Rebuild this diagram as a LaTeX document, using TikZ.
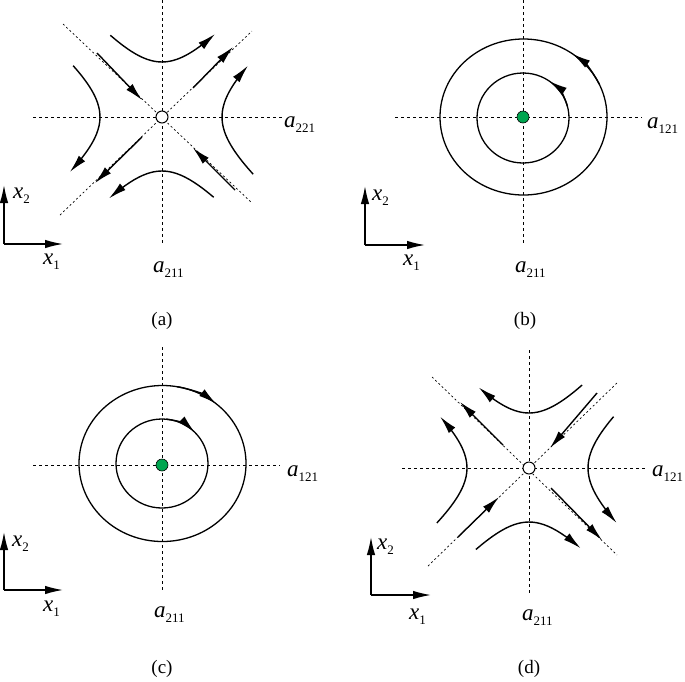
\documentclass[tikz,border=0pt]{standalone}
\usepackage{fontspec}
\setmainfont{Liberation Serif}
\usetikzlibrary{arrows.meta}
\definecolor{dotgreen}{HTML}{00A650}
\newcommand\lbl[2]{{\fontsize{23}{25}\selectfont\itshape #1}{\fontsize{13}{15}\selectfont\raisebox{-5pt}{#2}}}
\newcommand\capt[1]{{\fontsize{19}{21}\selectfont #1}}
\tikzset{
  mytip/.tip={Latex[length=18pt,width=8.5pt]},
  flow/.style={line width=1.4pt,-mytip},
  orbit/.style={line width=1.3pt},
  axisline/.style={line width=0.7pt,dash pattern=on 3pt off 3pt},
  diagline/.style={line width=0.7pt,dash pattern=on 2pt off 2.5pt},
  framearrow/.style={line width=1.4pt,-mytip},
  txtnode/.style={inner sep=0pt,anchor=base west},
  capnode/.style={inner sep=0pt,anchor=base},
  opendot/.style={circle,draw,line width=1pt,fill=white,minimum size=12pt,inner sep=0pt},
  greendot/.style={circle,draw,line width=0.6pt,fill=dotgreen,minimum size=12pt,inner sep=0pt}
}
\begin{document}
\begin{tikzpicture}[x=1pt,y=-1pt]
\useasboundingbox (0,0) rectangle (685,681);
%================ (a)
\coordinate (aC) at (162,117);
\draw[axisline] (162,0) -- (162,245);
\draw[axisline] (33,117) -- (282,117);
\draw[diagline] (63,24) -- (252,203);
\draw[diagline] (60,215) -- (252,31);
\draw[flow] (97,53) -- (142,100);
\draw[flow] (193,88) -- (233,47);
\draw[flow] (142,137) -- (95,183);
\draw[flow] (235,190) -- (193,148);
\begin{scope}[shift={(aC)}]
\draw[flow] plot[smooth,domain=-0.95:0.97,samples=25,variable=\t] ({47*sinh(\t)},{-55*cosh(\t)});
\draw[flow] plot[smooth,domain=-0.95:0.97,samples=25,variable=\t] ({-47*sinh(\t)},{54*cosh(\t)});
\draw[flow] plot[smooth,domain=-0.9:0.95,samples=25,variable=\t] ({-62*cosh(\t)},{50*sinh(\t)});
\draw[flow] plot[smooth,domain=-0.98:0.9,samples=25,variable=\t] ({60*cosh(\t)},{-50*sinh(\t)});
\end{scope}
\node[opendot] (aO) at (aC) {};
\node[txtnode] (aR) at (284,127) {\lbl{a}{221}};
\node[txtnode] (aB) at (153,272) {\lbl{a}{211}};
\coordinate (aK) at (4,244);
\coordinate (aKu) at (4,185);
\coordinate (aKr) at (63,244);
\draw[framearrow] (aK) -- (aKu);
\draw[framearrow] (aK) -- (aKr);
\node[txtnode] (aX2) at (13,198) {\lbl{x}{2}};
\node[txtnode] (aX1) at (43,264) {\lbl{x}{1}};
\node[capnode] (aCap) at (162,325) {\capt{(a)}};
%================ (b)
\coordinate (bC) at (523,117);
\draw[axisline] (523,0) -- (523,245);
\draw[axisline] (395,117) -- (642,117);
\draw[orbit] (523.5,117) ellipse [x radius=83.5,y radius=78];
\draw[orbit] (523,118) ellipse [x radius=46,y radius=45];
\draw[flow] (523.5,117) ++(-25:83.5 and 78) arc[start angle=-25,end angle=-54,x radius=83.5,y radius=78];
\draw[flow] (523,118) ++(-15:46 and 45) arc[start angle=-15,end angle=-55,x radius=46,y radius=45];
\node[greendot] (bO) at (bC) {};
\node[txtnode] (bR) at (647,128) {\lbl{a}{121}};
\node[txtnode] (bB) at (515,272) {\lbl{a}{211}};
\coordinate (bK) at (365,245);
\coordinate (bKu) at (365,186);
\coordinate (bKr) at (425,245);
\draw[framearrow] (bK) -- (bKu);
\draw[framearrow] (bK) -- (bKr);
\node[txtnode] (bX2) at (372,200) {\lbl{x}{2}};
\node[txtnode] (bX1) at (403,265) {\lbl{x}{1}};
\node[capnode] (bCap) at (525,325) {\capt{(b)}};
%================ (c)
\coordinate (cC) at (162,465);
\draw[axisline] (162,347) -- (162,590);
\draw[axisline] (33,465) -- (280,465);
\draw[orbit] (162.5,463.5) ellipse [x radius=83.5,y radius=78];
\draw[orbit] (162,463.5) ellipse [x radius=46,y radius=44.5];
\draw[flow] (162.5,463.5) ++(-80:83.5 and 78) arc[start angle=-80,end angle=-50,x radius=83.5,y radius=78];
\draw[flow] (162,463.5) ++(-85:46 and 44.5) arc[start angle=-85,end angle=-45,x radius=46,y radius=44.5];
\node[greendot] (cO) at (cC) {};
\node[txtnode] (cR) at (287,476) {\lbl{a}{121}};
\node[txtnode] (cB) at (154,617) {\lbl{a}{211}};
\coordinate (cK) at (4,590);
\coordinate (cKu) at (4,532);
\coordinate (cKr) at (63,590);
\draw[framearrow] (cK) -- (cKu);
\draw[framearrow] (cK) -- (cKr);
\node[txtnode] (cX2) at (12,546) {\lbl{x}{2}};
\node[txtnode] (cX1) at (43,611) {\lbl{x}{1}};
\node[capnode] (cCap) at (162,673) {\capt{(c)}};
%================ (d)
\coordinate (dC) at (529,468);
\draw[axisline] (529,350) -- (529,595);
\draw[axisline] (402,468) -- (647,468);
\draw[diagline] (432,377) -- (617,555);
\draw[diagline] (428,566) -- (618,382);
\draw[flow] (503,445) -- (460,402);
\draw[flow] (597,393) -- (550,448);
\draw[flow] (458,537) -- (499,497);
\draw[flow] (551,488) -- (602,540);
\begin{scope}[shift={(dC)}]
\draw[flow] plot[smooth,domain=-0.97:0.93,samples=25,variable=\t] ({-47*sinh(\t)},{-55*cosh(\t)});
\draw[flow] plot[smooth,domain=-0.97:0.95,samples=25,variable=\t] ({47*sinh(\t)},{54*cosh(\t)});
\draw[flow] plot[smooth,domain=-0.95:0.9,samples=25,variable=\t] ({-62*cosh(\t)},{-50*sinh(\t)});
\draw[flow] plot[smooth,domain=-0.9:0.95,samples=25,variable=\t] ({59*cosh(\t)},{50*sinh(\t)});
\end{scope}
\node[opendot] (dO) at (dC) {};
\node[txtnode] (dR) at (652,476) {\lbl{a}{121}};
\node[txtnode] (dB) at (522,620) {\lbl{a}{211}};
\coordinate (dK) at (371,595);
\coordinate (dKu) at (371,537);
\coordinate (dKr) at (431,595);
\draw[framearrow] (dK) -- (dKu);
\draw[framearrow] (dK) -- (dKr);
\node[txtnode] (dX2) at (377,549) {\lbl{x}{2}};
\node[txtnode] (dX1) at (409,619) {\lbl{x}{1}};
\node[capnode] (dCap) at (529,673) {\capt{(d)}};
\end{tikzpicture}
\end{document}
